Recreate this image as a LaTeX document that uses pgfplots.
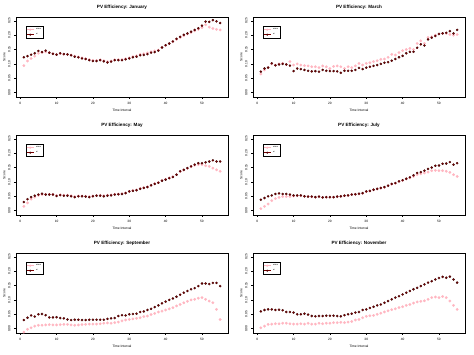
\documentclass[border=0pt]{standalone}
\usepackage{pgfplots}
\usepackage{pgfplotstable}
\pgfplotsset{compat=1.18}
\usepackage{fontspec}
\setmainfont{Liberation Sans}
\definecolor{pinkc}{HTML}{FFB6C1}
\definecolor{aic}{HTML}{7A0000}
\pgfplotstableread{
x janP janA marP marA mayP mayA julP julA sepP sepA novP novA
1 .094 .123 .065 .073 .015 .030 .007 .038 -.012 .030 .003 .060
2 .110 .127 .079 .084 .027 .040 .015 .044 -.002 .038 .009 .065
3 .119 .132 .087 .087 .040 .047 .023 .050 .003 .046 .015 .067
4 .127 .137 .100 .102 .047 .052 .035 .053 .009 .042 .016 .067
5 .137 .145 .096 .095 .053 .056 .042 .058 .012 .050 .017 .065
6 .140 .141 .100 .098 .056 .059 .046 .060 .012 .051 .017 .066
7 .142 .146 .102 .100 .057 .056 .049 .058 .013 .047 .019 .064
8 .139 .139 .098 .098 .057 .056 .049 .058 .014 .039 .019 .058
9 .135 .135 .108 .094 .057 .056 .049 .056 .013 .039 .017 .058
10 .133 .132 .096 .075 .053 .051 .051 .053 .013 .040 .016 .056
11 .136 .137 .100 .084 .055 .054 .052 .053 .014 .037 .016 .050
12 .134 .134 .096 .082 .054 .052 .052 .053 .015 .036 .017 .050
13 .133 .133 .094 .079 .054 .052 .050 .050 .015 .032 .016 .052
14 .131 .130 .093 .076 .052 .050 .049 .049 .013 .030 .019 .049
15 .127 .125 .090 .074 .049 .047 .048 .049 .012 .031 .016 .044
16 .124 .123 .090 .075 .051 .050 .047 .047 .013 .031 .016 .043
17 .121 .119 .087 .073 .051 .050 .048 .049 .014 .030 .019 .044
18 .118 .117 .093 .079 .050 .049 .046 .046 .015 .030 .017 .044
19 .115 .113 .090 .076 .049 .047 .047 .047 .016 .031 .019 .045
20 .112 .110 .084 .075 .051 .050 .047 .047 .016 .031 .019 .045
21 .112 .110 .091 .075 .053 .052 .047 .047 .016 .031 .021 .045
22 .114 .113 .093 .074 .054 .052 .048 .049 .017 .031 .021 .044
23 .111 .109 .090 .069 .052 .050 .050 .050 .019 .031 .022 .043
24 .108 .105 .084 .076 .054 .052 .052 .052 .020 .034 .021 .047
25 .110 .108 .090 .076 .055 .053 .053 .053 .019 .036 .023 .050
26 .114 .113 .087 .076 .057 .056 .056 .056 .021 .037 .025 .052
27 .115 .113 .093 .079 .058 .057 .057 .057 .023 .044 .030 .056
28 .115 .113 .102 .086 .059 .058 .058 .059 .027 .047 .032 .058
29 .118 .116 .096 .082 .062 .061 .060 .061 .030 .046 .038 .065
30 .121 .119 .102 .087 .067 .067 .066 .067 .032 .050 .043 .067
31 .125 .123 .104 .090 .070 .069 .068 .069 .034 .051 .045 .072
32 .128 .125 .108 .093 .072 .071 .072 .073 .036 .052 .046 .076
33 .133 .130 .111 .096 .077 .076 .075 .076 .038 .058 .050 .081
34 .135 .131 .116 .100 .080 .079 .078 .079 .042 .060 .054 .084
35 .138 .134 .117 .104 .083 .082 .081 .082 .044 .065 .058 .090
36 .142 .139 .123 .106 .089 .088 .086 .087 .049 .069 .062 .096
37 .145 .141 .133 .111 .094 .093 .092 .093 .053 .075 .066 .102
38 .148 .146 .131 .117 .098 .097 .095 .096 .058 .081 .069 .108
39 .157 .157 .139 .123 .105 .104 .101 .102 .061 .088 .073 .113
40 .164 .165 .146 .128 .109 .108 .105 .106 .065 .094 .076 .119
41 .170 .171 .150 .137 .114 .113 .110 .111 .069 .100 .081 .125
42 .177 .178 .154 .142 .118 .117 .114 .116 .073 .105 .084 .131
43 .185 .187 .150 .142 .125 .125 .119 .123 .079 .111 .089 .137
44 .192 .194 .171 .156 .136 .137 .125 .131 .084 .118 .093 .142
45 .198 .201 .180 .168 .141 .142 .128 .134 .090 .125 .095 .148
46 .204 .206 .171 .164 .147 .148 .131 .139 .095 .131 .097 .154
47 .209 .212 .192 .185 .153 .154 .134 .145 .100 .137 .102 .160
48 .215 .218 .194 .191 .158 .160 .139 .150 .102 .141 .108 .165
49 .220 .224 .200 .197 .160 .165 .140 .156 .106 .148 .110 .171
50 .226 .233 .204 .204 .160 .165 .139 .157 .108 .157 .108 .176
51 .236 .247 .206 .206 .156 .168 .139 .163 .102 .157 .112 .180
52 .228 .246 .206 .208 .154 .171 .137 .164 .096 .155 .108 .177
53 .223 .252 .202 .214 .148 .175 .133 .169 .090 .159 .096 .181
54 .220 .248 .200 .206 .142 .171 .125 .160 .067 .159 .081 .171
55 .218 .242 .202 .218 .137 .171 .119 .165 .032 .148 .067 .160
}\data
\pgfplotsset{
  panel/.style={
    anchor=south west, scale only axis, width=212pt, height=80pt,
    xmin=-1.16, xmax=57.16, ymin=-0.015, ymax=0.263,
    xtick={0,10,20,30,40,50}, ytick={0,0.05,0.10,0.15,0.20,0.25},
    yticklabel style={/pgf/number format/.cd,fixed,fixed zerofill,precision=2,/tikz/.cd, rotate=90, anchor=south, font=\fontsize{3.2}{3.6}\selectfont},
    xticklabel style={font=\fontsize{3.2}{3.6}\selectfont},
    /pgf/number format/assume math mode=true,
    xtick pos=bottom, ytick pos=left, tick align=outside,
    major tick length=2pt,
    tick style={black, line width=0.4pt},
    axis line style={line width=0.5pt},
    title style={font=\bfseries\fontsize{4.6}{5.5}\selectfont, yshift=-2pt},
    xlabel={Time Interval}, ylabel={Score},
    xlabel style={font=\fontsize{3.3}{4}\selectfont, yshift=3pt},
    ylabel style={font=\fontsize{3.3}{4}\selectfont, yshift=-4pt},
    legend style={at={(0.047,0.89)}, anchor=north west, font=\fontsize{2}{2.2}\selectfont, inner sep=0.3pt, row sep=-2pt, draw=black, line width=0.3pt},
    legend cell align=left,
    legend image code/.code={%
      \draw[##1, sharp plot] (0pt,0pt) -- (7pt,0pt);
      \draw[##1, only marks, mark size=0.9pt] plot coordinates {(3.5pt,0pt)};},
  },
  pk/.style={pinkc, line width=0.6pt, mark=*, mark size=1.3pt, mark options={fill=pinkc, draw=pinkc, line width=0.2pt}},
  ai/.style={aic, line width=0.6pt, mark=*, mark size=1.15pt, mark options={fill=aic, draw=black!60!aic, line width=0.2pt}},
}
\newcommand{\panel}[5]{%
\begin{axis}[panel, at={(#1pt,#2pt)}, title={PV Efficiency: #3}]
\addplot[pk, only marks] table[x=x,y=#4]{\data};
\addlegendentry{arima}
\addplot[ai, only marks] table[x=x,y=#5]{\data};
\addlegendentry{ai}
\end{axis}}
\begin{document}
\begin{tikzpicture}
\useasboundingbox (0pt,0pt) rectangle (474pt,355pt);
\panel{16}{258}{January}{janP}{janA}
\panel{253}{258}{March}{marP}{marA}
\panel{16}{140}{May}{mayP}{mayA}
\panel{253}{140}{July}{julP}{julA}
\panel{16}{22}{September}{sepP}{sepA}
\panel{253}{22}{November}{novP}{novA}
\end{tikzpicture}
\end{document}
